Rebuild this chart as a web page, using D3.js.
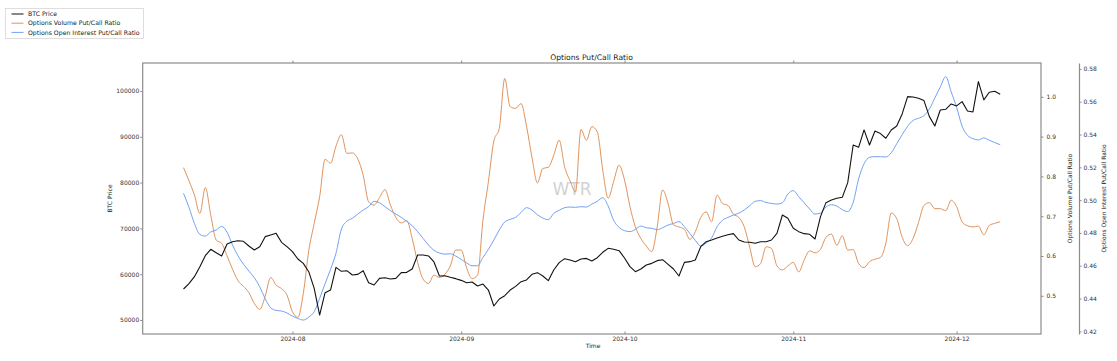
<!DOCTYPE html>
<html>
<head>
<meta charset="utf-8">
<script src="https://cdn.jsdelivr.net/npm/d3@7"></script>
<style>
  body { margin: 0; background: #fff; }
  svg { font-family: "DejaVu Sans", sans-serif; }
  .axis path, .axis line { stroke: #8c8c8c; }
  .axis text { fill: #333; font-size: 6px; font-family: "DejaVu Sans", sans-serif; }
</style>
</head>
<body>
<svg id="chart" width="1117" height="361"></svg>
<script>
// daily series, first value on startDate
let startDate = "2024-07-12"

let btcPrice = [
  56770, 57930, 59460, 61650, 64050, 65430, 64700, 63980, 66600, 67100,
  67320, 67180, 66160, 65290, 66010, 68200, 68560, 68920, 66960, 66010,
  64920, 63320, 62370, 60550, 56920, 51090, 55970, 56550, 61500, 60630,
  60770, 59830, 59970, 60770, 58150, 57640, 59100, 59240, 58950, 59100,
  60340, 60410, 61140, 64190, 64190, 63980, 62670, 59610, 59680, 59320,
  59030, 58660, 58150, 58300, 57430, 57860, 56550, 53060, 54590, 55310,
  56550, 57350, 58370, 58740, 59970, 60340, 59610, 58590, 60920, 62520,
  63390, 63100, 62740, 63320, 63450, 62880, 63610, 64780, 65650, 65430,
  65140, 63540, 61650, 60550, 61140, 62010, 62370, 62960, 63170, 62160,
  61140, 59610, 62590, 62740, 63100, 66010, 67100, 67470, 67910, 68270,
  68630, 68850, 67470, 67030, 66960, 66740, 67100, 67100, 67470, 68920,
  72930, 72200, 70020, 69290, 68850, 68710, 67690, 72560, 75620, 76200,
  76570, 76780, 79990, 88210, 87700, 91490, 88210, 91270, 90690, 89670,
  91490, 92360, 94980, 98760, 98690, 98400, 97890, 94400, 92360, 95850,
  96000, 97160, 96730, 97670, 95630, 95420, 102040, 98040, 99710, 99930,
  99270
]

let volumeRatio = [
  0.822, 0.789, 0.753, 0.707, 0.772, 0.703, 0.640, 0.632, 0.600, 0.567,
  0.538, 0.524, 0.508, 0.481, 0.466, 0.499, 0.546, 0.527, 0.518, 0.502,
  0.460, 0.446, 0.506, 0.613, 0.682, 0.749, 0.843, 0.833, 0.876, 0.905,
  0.858, 0.859, 0.844, 0.803, 0.736, 0.728, 0.747, 0.767, 0.728, 0.697,
  0.683, 0.689, 0.644, 0.584, 0.542, 0.531, 0.552, 0.546, 0.554, 0.575,
  0.615, 0.615, 0.570, 0.543, 0.552, 0.690, 0.787, 0.889, 0.921, 1.046,
  0.975, 0.971, 0.983, 0.926, 0.848, 0.784, 0.820, 0.823, 0.853, 0.891,
  0.824, 0.789, 0.761, 0.918, 0.891, 0.925, 0.912, 0.816, 0.745, 0.787,
  0.828, 0.791, 0.724, 0.673, 0.644, 0.625, 0.611, 0.673, 0.766, 0.732,
  0.678, 0.673, 0.667, 0.642, 0.661, 0.697, 0.711, 0.686, 0.753, 0.732,
  0.727, 0.705, 0.697, 0.673, 0.622, 0.573, 0.581, 0.623, 0.619, 0.575,
  0.565, 0.575, 0.584, 0.560, 0.590, 0.613, 0.608, 0.617, 0.647, 0.655,
  0.627, 0.651, 0.615, 0.616, 0.581, 0.571, 0.586, 0.592, 0.596, 0.632,
  0.708, 0.694, 0.647, 0.626, 0.644, 0.684, 0.727, 0.734, 0.719, 0.719,
  0.714, 0.740, 0.724, 0.686, 0.676, 0.673, 0.675, 0.653, 0.677, 0.682,
  0.686
]

let oiRatio = [
  0.5041, 0.4956, 0.4858, 0.4791, 0.4781, 0.4806, 0.4818, 0.4840, 0.4804, 0.4726,
  0.4661, 0.4610, 0.4568, 0.4527, 0.4472, 0.4399, 0.4344, 0.4328, 0.4324, 0.4312,
  0.4293, 0.4279, 0.4269, 0.4287, 0.4320, 0.4401, 0.4491, 0.4578, 0.4676, 0.4824,
  0.4871, 0.4889, 0.4915, 0.4940, 0.4960, 0.4993, 0.4984, 0.4960, 0.4936, 0.4915,
  0.4895, 0.4871, 0.4844, 0.4808, 0.4767, 0.4726, 0.4694, 0.4678, 0.4671, 0.4673,
  0.4659, 0.4639, 0.4617, 0.4600, 0.4600, 0.4651, 0.4700, 0.4757, 0.4818, 0.4867,
  0.4883, 0.4895, 0.4925, 0.4954, 0.4940, 0.4911, 0.4891, 0.4881, 0.4919, 0.4938,
  0.4954, 0.4958, 0.4956, 0.4960, 0.4958, 0.4976, 0.4993, 0.5015, 0.4964, 0.4877,
  0.4834, 0.4814, 0.4808, 0.4822, 0.4842, 0.4832, 0.4828, 0.4820, 0.4832, 0.4848,
  0.4858, 0.4869, 0.4838, 0.4797, 0.4755, 0.4720, 0.4738, 0.4769, 0.4838, 0.4877,
  0.4895, 0.4909, 0.4921, 0.4940, 0.4966, 0.4993, 0.4997, 0.4986, 0.4980, 0.4976,
  0.4984, 0.5037, 0.5058, 0.5021, 0.4984, 0.4946, 0.4915, 0.4921, 0.4958, 0.4972,
  0.4964, 0.4942, 0.4930, 0.4986, 0.5129, 0.5222, 0.5261, 0.5265, 0.5265, 0.5263,
  0.5289, 0.5344, 0.5399, 0.5450, 0.5486, 0.5499, 0.5515, 0.5556, 0.5623, 0.5690,
  0.5753, 0.5661, 0.5566, 0.5452, 0.5395, 0.5375, 0.5367, 0.5379, 0.5365, 0.5351,
  0.5338
]

let btcTicks = [50000, 60000, 70000, 80000, 90000, 100000]
let volumeTicks = [0.5, 0.6, 0.7, 0.8, 0.9, 1.0]
let oiTicks = [0.42, 0.44, 0.46, 0.48, 0.50, 0.52, 0.54, 0.56, 0.58]
let monthTicks = ["2024-08-01", "2024-09-01", "2024-10-01", "2024-11-01", "2024-12-01"]

let seriesNames = ["BTC Price", "Options Volume Put/Call Ratio", "Options Open Interest Put/Call Ratio"]
let seriesColors = ["#111111", "#e0935c", "#72a2f2"]

let makeChart = () => {
    let svg = d3.select("#chart")
    let left = 142.7, right = 1041, top = 63, bottom = 334

    let parse = d3.utcParse("%Y-%m-%d")
    let start = parse(startDate)
    let dates = btcPrice.map((d, i) => d3.utcDay.offset(start, i))

    // matplotlib style 5% padding on the time axis
    let ext = d3.extent(dates)
    let pad = (ext[1] - ext[0]) * 0.05
    let x = d3.scaleUtc()
        .domain([new Date(+ext[0] - pad), new Date(+ext[1] + pad)])
        .range([left, right])

    let yBtc = d3.scaleLinear().domain([46950, 106100]).range([bottom, top])
    let yVol = d3.scaleLinear().domain([0.404, 1.085]).range([bottom, top])
    let yOi = d3.scaleLinear().domain([0.4184, 0.5836]).range([bottom, top])

    // watermark
    svg.append("text")
        .attr("x", 572).attr("y", 195)
        .attr("text-anchor", "middle")
        .style("font-size", "17px")
        .style("fill", "#d2d2d2")
        .text("WTR")

    let lineOf = (values, y, curve) => d3.line()
        .curve(curve)
        .x((d, i) => x(dates[i]))
        .y(d => y(d))(values)

    // the ratio series are smoothed averages, so draw them with a smooth curve
    svg.append("path")
        .attr("d", lineOf(volumeRatio, yVol, d3.curveMonotoneX))
        .attr("fill", "none").attr("stroke", seriesColors[1]).attr("stroke-width", 1)
    svg.append("path")
        .attr("d", lineOf(oiRatio, yOi, d3.curveMonotoneX))
        .attr("fill", "none").attr("stroke", seriesColors[2]).attr("stroke-width", 1)
    svg.append("path")
        .attr("d", lineOf(btcPrice, yBtc, d3.curveLinear))
        .attr("fill", "none").attr("stroke", seriesColors[0]).attr("stroke-width", 1.1)
        .attr("stroke-linejoin", "round")

    // axes
    let monthDates = monthTicks.map(parse)

    svg.append("g").attr("class", "axis")
        .attr("transform", "translate(" + left + ",0)")
        .call(d3.axisLeft(yBtc).tickValues(btcTicks).tickSize(2.5).tickPadding(1).tickFormat(d3.format("d")))
        .call(g => g.select(".domain").remove())

    svg.append("g").attr("class", "axis")
        .attr("transform", "translate(0," + bottom + ")")
        .call(d3.axisBottom(x).tickValues(monthDates).tickSize(-2.5).tickPadding(2.5).tickFormat(d3.utcFormat("%Y-%m")))
        .call(g => g.select(".domain").remove())

    // small marks on the top spine
    svg.append("g").attr("class", "axis")
        .attr("transform", "translate(0," + top + ")")
        .call(d3.axisTop(x).tickValues(monthDates).tickSize(2.5).tickFormat(""))
        .call(g => g.select(".domain").remove())

    svg.append("g").attr("class", "axis")
        .attr("transform", "translate(" + right + ",0)")
        .call(d3.axisRight(yVol).tickValues(volumeTicks).tickSize(2.5).tickPadding(3).tickFormat(d3.format(".1f")))
        .call(g => g.select(".domain").remove())

    svg.append("g").attr("class", "axis")
        .attr("transform", "translate(1079,0)")
        .call(d3.axisRight(yOi).tickValues(oiTicks).tickSize(2.5).tickPadding(2).tickSizeOuter(0).tickFormat(d3.format(".2f")))
        .call(g => g.select(".domain").attr("stroke-width", 1.2))

    // frame
    svg.append("rect")
        .attr("x", left).attr("y", top)
        .attr("width", right - left).attr("height", bottom - top)
        .attr("fill", "none").attr("stroke", "#8c8c8c").attr("stroke-width", 1.2)

    // labels
    let label = (txt, xPos, yPos, rot, size) => {
        svg.append("text")
            .attr("transform", "translate(" + xPos + "," + yPos + ")" + (rot ? " rotate(-90)" : ""))
            .attr("text-anchor", "middle")
            .attr("dy", "0.35em")
            .style("font-size", size + "px")
            .style("fill", "#222")
            .text(txt)
    }
    label("Options Put/Call Ratio", 591.5, 57, false, 7.6)
    label("Time", 593, 345.5, false, 6)
    label("BTC Price", 110, (top + bottom) / 2, true, 6)
    label("Options Volume Put/Call Ratio", 1070, (top + bottom) / 2, true, 6)
    label("Options Open Interest Put/Call Ratio", 1104, (top + bottom) / 2, true, 6)

    // legend
    let lg = svg.append("g").attr("transform", "translate(5.5,8.5)")
    lg.append("rect")
        .attr("width", 138).attr("height", 30)
        .attr("fill", "#fff").attr("stroke", "#d6d6d6").attr("stroke-width", 0.8)
    seriesNames.forEach((name, i) => {
        let yy = 5.5 + i * 9.2
        lg.append("line")
            .attr("x1", 6).attr("x2", 18).attr("y1", yy).attr("y2", yy)
            .attr("stroke", seriesColors[i]).attr("stroke-width", 1)
        lg.append("text")
            .attr("x", 22.5).attr("y", yy).attr("dy", "0.35em")
            .style("font-size", "6.2px").style("fill", "#222")
            .text(name)
    })
}

makeChart()
</script>
</body>
</html>
